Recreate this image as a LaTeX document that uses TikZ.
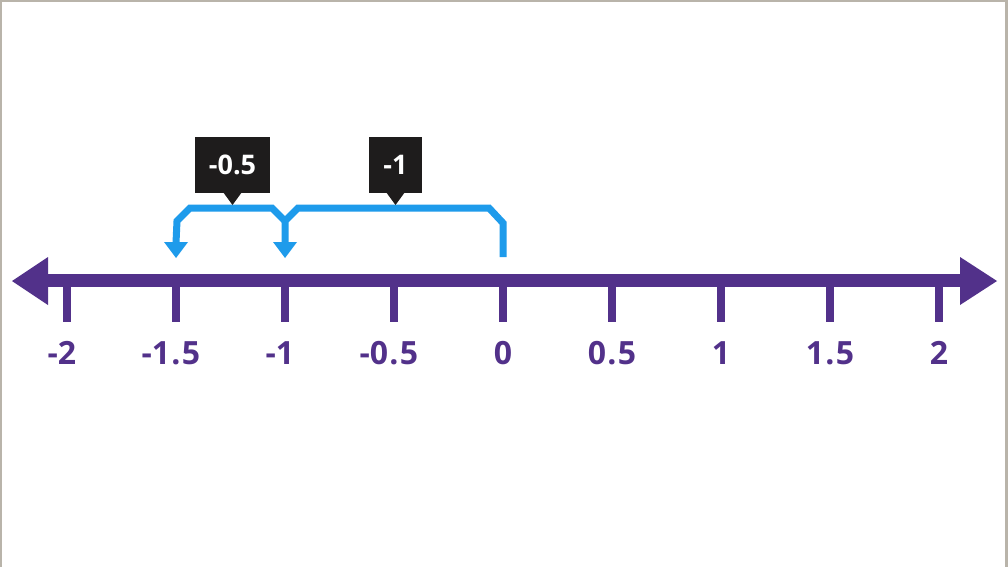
\documentclass[tikz,border=0pt]{standalone}
\usepackage{fontspec}
\setmainfont{Open Sans}
\newfontfamily\labelfont[LetterSpace=4]{Open Sans}
\definecolor{axispurple}{RGB}{82,49,138}
\definecolor{jumpblue}{RGB}{30,155,235}
\definecolor{framegray}{RGB}{185,180,170}
\definecolor{boxblack}{RGB}{30,28,28}
\tikzset{
  tickmark/.style={fill=axispurple, draw=none, minimum width=8pt, minimum height=42pt, inner sep=0pt, anchor=north},
  ticklabel/.style={text=axispurple, font=\labelfont\fontsize{32}{36}\selectfont\bfseries, inner sep=0pt},
  jump/.style={draw=jumpblue, line width=7pt, line join=miter},
  jumptip/.style={fill=jumpblue, draw=none},
  jumplabel/.style={fill=boxblack, text=white, font=\fontsize{27}{32}\selectfont\bfseries, minimum height=56pt, inner sep=0pt, anchor=south},
}
\begin{document}
\begin{tikzpicture}[x=1pt,y=-1pt]
\useasboundingbox (0,0) rectangle (1008,567);
\fill[white] (0,0) rectangle (1008,567);
\draw[framegray, line width=2.5pt] (1,0.5) -- (1,567) (0,0.5) -- (1008,0.5) (1006.5,0) -- (1006.5,567);
% axis
\fill[axispurple] (45,274) rectangle (963,287);
\fill[axispurple] (12,281) -- (48,257) -- (48,305) -- cycle;
\fill[axispurple] (997,281) -- (960,257) -- (960,305) -- cycle;
% ticks and labels (numbers centred on the tick, minus sign hanging to the left)
\foreach \v/\x/\n in {{\llap{-}2}/67/t0, {\llap{-}1.5}/176/t1, {\llap{-}1}/285/t2, {\llap{-}0.5}/394/t3, 0/503/t4, 0.5/612/t5, 1/721/t6, 1.5/830/t7, 2/939/t8} {
  \node[tickmark] (\n) at (\x,280) {};
  \node[ticklabel] (l\n) at (\x,353) {\v};
}
% jumps
\coordinate (s0) at (503,257);
\coordinate (e1) at (285,243);
\coordinate (e2) at (176,243);
\draw[jump] (s0) -- (503,223) -- (489,208) -- (298,208) -- (285,221) -- (e1);
\draw[jump] (285,221) -- (272,208) -- (190,208) -- (177,221) -- (e2);
\fill[jumptip] (273,242) -- (297,242) -- (285,258) -- cycle;
\fill[jumptip] (164,242) -- (188,242) -- (176,258) -- cycle;
% labels
\node[jumplabel, minimum width=75pt] (b1) at (232.5,193) {-0.5};
\fill[boxblack] (223,192) -- (242,192) -- (232.5,205) -- cycle;
\node[jumplabel, minimum width=53pt] (b2) at (395.5,193) {-1};
\fill[boxblack] (386,192) -- (405,192) -- (395.5,205) -- cycle;
\end{tikzpicture}
\end{document}
